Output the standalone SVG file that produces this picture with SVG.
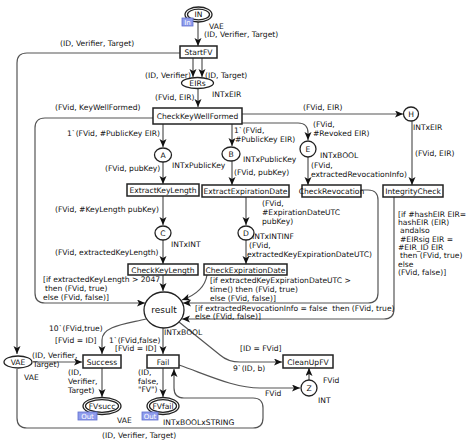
<svg xmlns="http://www.w3.org/2000/svg" width="474" height="442" viewBox="0 0 474 442">
<style>
text{font-family:"DejaVu Sans","Verdana",sans-serif;font-size:7.6px;fill:#111}
.c{text-anchor:middle}
.r{font-size:9px}
.tr{fill:#fff;stroke:#222;stroke-width:1.5}
.pl{fill:#fff;stroke:#222;stroke-width:1.3}
.ln{fill:none;stroke:#555;stroke-width:1.2;marker-end:url(#ah)}
.tag{fill:#8f9cec;stroke:#5f6fd0;stroke-width:0.8}
.tt{fill:#fff;font-size:7px;text-anchor:middle}
</style>
<defs>
<marker id="ah" markerUnits="userSpaceOnUse" markerWidth="9" markerHeight="8" refX="8" refY="3.5" orient="auto">
<path d="M0,0 L8,3.5 L0,7 L2,3.5 z" fill="#111"/>
</marker>
</defs>
<rect width="474" height="442" fill="#fff"/>
<g id="connectors">
<path class="ln" d="M198,22 L198,46"/>
<path class="ln" d="M180,53 L27,53 Q17,53 17,63 L17,354"/>
<path class="ln" d="M193,58 L193,77"/>
<path class="ln" d="M202,58 L202,77"/>
<path class="ln" d="M198,89 L198,107"/>
<path class="ln" d="M153,118 L45,118 Q35,118 35,128 L35,293 Q35,303 45,303 L145,303"/>
<path class="ln" d="M242,114 L403,114"/>
<path class="ln" d="M242,123 L298,123 Q308,123 308,133 L308,140"/>
<path class="ln" d="M163,124 L163,147"/>
<path class="ln" d="M232,124 L232,146"/>
<path class="ln" d="M163,162 L163,184"/>
<path class="ln" d="M232,161 L232,185"/>
<path class="ln" d="M308,157 L308,185"/>
<path class="ln" d="M412,121 L412,185"/>
<path class="ln" d="M163,196 L163,225"/>
<path class="ln" d="M246,197 L246,225"/>
<path class="ln" d="M163,240 L163,264"/>
<path class="ln" d="M246,240 L246,264"/>
<path class="ln" d="M163,275 L163,291"/>
<path class="ln" d="M207,275 C205,288 196,295 182,300"/>
<path class="ln" d="M361,190 L368,190 Q378,190 378,200 L378,293 Q378,303 368,303 L183,303"/>
<path class="ln" d="M394,197 L394,309 Q394,319 384,319 L182,319"/>
<path class="ln" d="M146,319 C125,324 102,326 102,340 L102,354"/>
<path class="ln" d="M163,328 L163,354"/>
<path class="ln" d="M179,322 L220,355 Q228,362 240,362 L282,362"/>
<path class="ln" d="M33,362 L82,362"/>
<path class="ln" d="M102,368 L102,397"/>
<path class="ln" d="M163,368 L163,397"/>
<path class="ln" d="M179,365 C210,376 235,388 260,388 L300,388"/>
<path class="ln" d="M309,380 L309,368"/>
<path class="ln" d="M17,369 L17,418 Q17,428 27,428 L253,428 Q263,428 263,418 L263,408 Q263,398 253,398 L184,398 Q174,398 174,388 L174,369"/>
</g>
<g id="labels">
<text x="209" y="28.7">VAE</text>
<text x="204" y="36.7">(ID, Verifier, Target)</text>
<text x="60" y="46.4">(ID, Verifier, Target)</text>
<text x="145" y="77.7">(ID, Verifier)</text>
<text x="205" y="77.7">(ID, Target)</text>
<text x="155" y="99.7">(FVid, EIR)</text>
<text x="212" y="97">INTxEIR</text>
<text x="55" y="109.7">(FVid, KeyWellFormed)</text>
<text x="303" y="109.5">(FVid, EIR)</text>
<text x="67" y="135.7">1`(FVid, #PublicKey EIR)</text>
<text x="234" y="133.2">1`(FVid,</text>
<text x="235" y="142.2">#PublicKey EIR)</text>
<text x="313" y="126.7">(FVid,</text>
<text x="313" y="135.7">#Revoked EIR)</text>
<text x="413" y="129.7">INTxEIR</text>
<text x="320" y="157.7">INTxBOOL</text>
<text x="415" y="155.7">(FVid, EIR)</text>
<text x="172" y="167.7">INTxPublicKey</text>
<text x="243" y="161.7">INTxPublicKey</text>
<text x="105" y="170.7">(FVid, pubKey)</text>
<text x="234" y="174.7">(FVid, pubKey)</text>
<text x="311" y="167.7">(FVid,</text>
<text x="311" y="176.7">extractedRevocationInfo)</text>
<text x="262" y="205.7">(FVid,</text>
<text x="262" y="215">#ExpirationDateUTC</text>
<text x="262" y="223.7">pubKey)</text>
<text x="55" y="211.7">(FVid, #KeyLength pubKey)</text>
<text x="252" y="238.7">INTxINTINF</text>
<text x="171" y="246.7">INTxINT</text>
<text x="249" y="248">(FVid,</text>
<text x="247" y="257">extractedKeyExpirationDateUTC)</text>
<text x="55" y="254.7">(FVid, extractedKeyLength)</text>
<text x="43" y="281.7">[if extractedKeyLength &gt; 2047</text>
<text x="45" y="290.7">then (FVid, true)</text>
<text x="43" y="299.7">else (FVid, false)]</text>
<text x="210" y="282.7">[if extractedKeyExpirationDateUTC &gt;</text>
<text x="210" y="291.7">time() then (FVid, true)</text>
<text x="210" y="300.7">else (FVid, false)]</text>
<text x="195" y="310.7" xml:space="preserve">[if extractedRevocationInfo = false  then (FVid, true)</text>
<text x="195" y="319.2">else (FVid, false)]</text>
<text x="398" y="216.7">[if #hashEIR EIR=</text>
<text x="398" y="225">hashEIR (EIR)</text>
<text x="400" y="233.3">andalso</text>
<text x="400" y="241.6">#EIRsig EIR =</text>
<text x="398" y="249.9">#EIR_ID EIR</text>
<text x="400" y="258.2">then (FVid, true)</text>
<text x="398" y="266.5">else</text>
<text x="398" y="274.8">(FVid, false)]</text>
<text x="49" y="330.7">10`(FVid,true)</text>
<text x="55" y="343.4">[FVid = ID]</text>
<text x="109" y="343.4">1`(FVid,false)</text>
<text x="115" y="351">[FVid = ID]</text>
<text x="164" y="334.7">INTxBOOL</text>
<text x="240" y="350.7">[ID = FVid]</text>
<text x="32" y="357.7">(ID, Verifier,</text>
<text x="33" y="366.7">Target)</text>
<text x="233" y="370.7">9`(ID, b)</text>
<text x="68" y="374.7">(ID,</text>
<text x="68" y="384">Verifier,</text>
<text x="68" y="393">Target)</text>
<text x="138" y="374.7">(ID,</text>
<text x="138" y="383.7">false,</text>
<text x="138" y="392">"FV")</text>
<text x="24" y="379.7">VAE</text>
<text x="323" y="382.7">FVid</text>
<text x="265" y="395.7">FVid</text>
<text x="318" y="402.7">INT</text>
<text x="117" y="422.7">VAE</text>
<text x="163" y="424.7">INTxBOOLxSTRING</text>
<text x="102" y="437.7">(ID, Verifier, Target)</text>
</g>
<g id="IN">
<ellipse class="pl" cx="198.5" cy="14.5" rx="13.5" ry="7.5"/>
<ellipse class="pl" cx="198.5" cy="14.5" rx="11" ry="5.3"/>
<text class="c" x="198.5" y="17.3">IN</text>
<rect class="tag" x="182" y="18" width="11" height="8"/>
<text class="tt" x="187.5" y="24.5">In</text>
</g>
<g id="StartFV">
<rect class="tr" x="180" y="46" width="37" height="12"/>
<text class="c" x="198.5" y="55">StartFV</text>
</g>
<g id="EIRs">
<ellipse class="pl" cx="197.5" cy="83" rx="16" ry="5.5"/>
<text class="c" x="197.5" y="85.8">EIRs</text>
</g>
<g id="CheckKeyWellFormed">
<rect class="tr" x="153" y="108" width="89" height="16"/>
<text class="c" x="197.5" y="118.8">CheckKeyWellFormed</text>
</g>
<g id="H">
<ellipse class="pl" cx="411" cy="114" rx="7.5" ry="7"/>
<text class="c" x="411" y="116.8">H</text>
</g>
<g id="A">
<ellipse class="pl" cx="163" cy="155" rx="8.5" ry="7"/>
<text class="c" x="163" y="157.8">A</text>
</g>
<g id="B">
<ellipse class="pl" cx="231" cy="154" rx="9" ry="7"/>
<text class="c" x="231" y="156.8">B</text>
</g>
<g id="E">
<ellipse class="pl" cx="308" cy="149" rx="8" ry="8"/>
<text class="c" x="308" y="151.8">E</text>
</g>
<g id="ExtractKeyLength">
<rect class="tr" x="127" y="184" width="72" height="12"/>
<text class="c" x="163" y="193">ExtractKeyLength</text>
</g>
<g id="ExtractExpirationDate">
<rect class="tr" x="202" y="185" width="87" height="12"/>
<text class="c" x="245.5" y="194">ExtractExpirationDate</text>
</g>
<g id="CheckRevocation">
<rect class="tr" x="302" y="185" width="59" height="12"/>
<text class="c" x="331.5" y="194">CheckRevocation</text>
</g>
<g id="IntegrityCheck">
<rect class="tr" x="383" y="185" width="60" height="12"/>
<text class="c" x="413" y="194">IntegrityCheck</text>
</g>
<g id="C">
<ellipse class="pl" cx="163" cy="233" rx="8" ry="7"/>
<text class="c" x="163" y="235.8">C</text>
</g>
<g id="D">
<ellipse class="pl" cx="246" cy="233" rx="8" ry="7"/>
<text class="c" x="246" y="235.8">D</text>
</g>
<g id="CheckKeyLength">
<rect class="tr" x="128" y="264" width="70" height="11"/>
<text class="c" x="163" y="272.5">CheckKeyLength</text>
</g>
<g id="CheckExpirationDate">
<rect class="tr" x="204" y="264" width="83" height="11"/>
<text class="c" x="245.5" y="272.5">CheckExpirationDate</text>
</g>
<g id="result">
<ellipse class="pl" cx="164" cy="310" rx="20" ry="18"/>
<text class="c r" x="164" y="313.2">result</text>
</g>
<g id="VAE">
<ellipse class="pl" cx="18" cy="362" rx="14" ry="6"/>
<text class="c" x="18" y="364.8">VAE</text>
</g>
<g id="Success">
<rect class="tr" x="83" y="355" width="38" height="13"/>
<text class="c" x="102" y="364.5">Success</text>
</g>
<g id="Fail">
<rect class="tr" x="147" y="355" width="32" height="13"/>
<text class="c" x="163" y="364.5">Fail</text>
</g>
<g id="CleanUpFV">
<rect class="tr" x="283" y="355" width="50" height="13"/>
<text class="c" x="308" y="364.5">CleanUpFV</text>
</g>
<g id="Z">
<ellipse class="pl" cx="309" cy="388" rx="8" ry="8"/>
<text class="c" x="309" y="390.8">Z</text>
</g>
<g id="FVsucc">
<ellipse class="pl" cx="102" cy="406" rx="19" ry="8.5"/>
<ellipse class="pl" cx="102" cy="406" rx="16.5" ry="6.3"/>
<text class="c" x="102" y="408.8">FVsucc</text>
<rect class="tag" x="78" y="412" width="19" height="8"/>
<text class="tt" x="87.5" y="418.5">Out</text>
</g>
<g id="FVfail">
<ellipse class="pl" cx="163" cy="406" rx="16" ry="8.5"/>
<ellipse class="pl" cx="163" cy="406" rx="13.5" ry="6.3"/>
<text class="c" x="163" y="408.8">FVfail</text>
<rect class="tag" x="142" y="412" width="16" height="8"/>
<text class="tt" x="150" y="418.5">Out</text>
</g>
</svg>
